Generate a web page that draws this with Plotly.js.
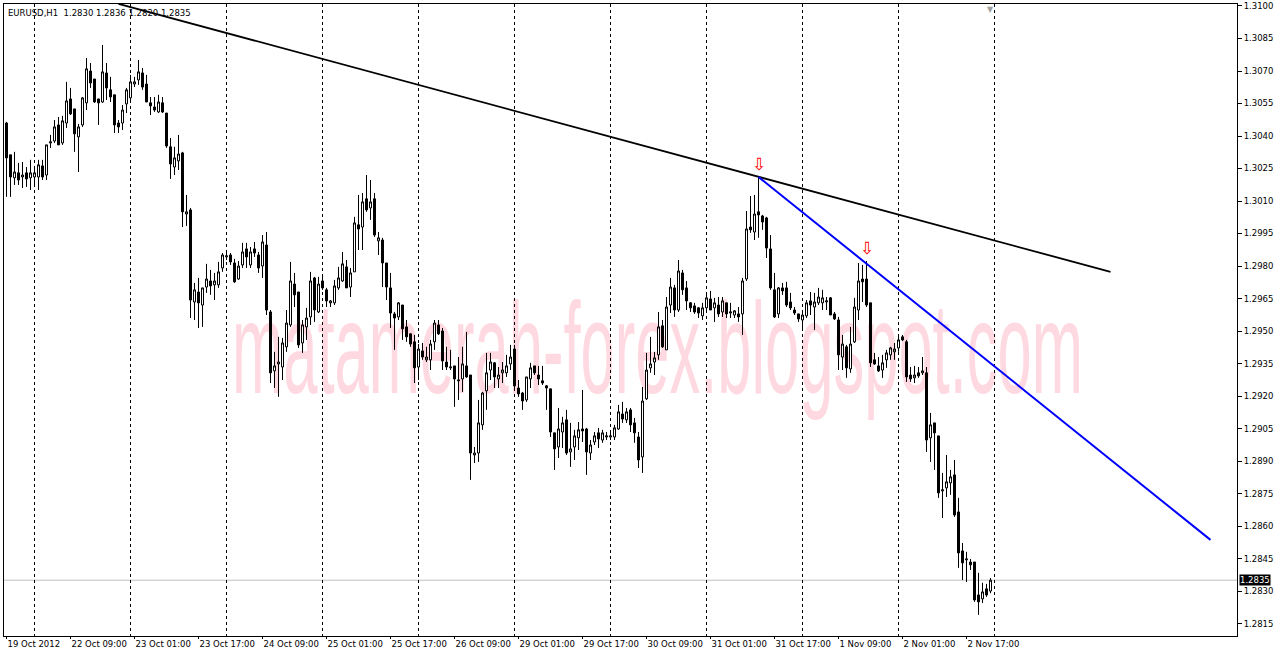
<!DOCTYPE html>
<html>
<head>
<meta charset="utf-8">
<script src="https://cdn.plot.ly/plotly-3.0.1.min.js"></script>
<style>
html,body{margin:0;padding:0;background:#fff;}
#chart{width:1275px;height:652px;}
</style>
</head>
<body>
<div id="chart"></div>
<script>
// ---- EURUSD H1 candles (19 Oct 2012 17:00 -> 2 Nov 2012 23:00) ----
const openP = [1.30460,1.30313,1.30207,1.30230,1.30211,1.30230,1.30207,1.30211,1.30211,1.30262,1.30220,1.30368,1.30377,1.30451,1.30368,1.30460,1.30571,1.30525,1.30396,1.30451,
1.30553,1.30700,1.30663,1.30571,1.30557,1.30691,1.30613,1.30590,1.30460,1.30460,1.30548,1.30576,1.30640,1.30659,1.30691,1.30640,1.30553,1.30534,1.30511,1.30553,
1.30506,1.30350,1.30257,1.30285,1.30322,1.30040,1.30059,1.29634,1.29680,1.29620,1.29703,1.29731,1.29713,1.29713,1.29791,1.29842,1.29851,1.29814,1.29740,1.29805,
1.29879,1.29805,1.29879,1.29851,1.29800,1.29897,1.29588,1.29316,1.29348,1.29334,1.29427,1.29528,1.29717,1.29680,1.29445,1.29519,1.29565,1.29745,1.29588,1.29731,
1.29690,1.29630,1.29630,1.29699,1.29731,1.29796,1.29703,1.29773,1.29990,1.29980,1.30110,1.30068,1.30110,1.29916,1.29920,1.29814,1.29699,1.29579,1.29565,1.29620,
1.29519,1.29487,1.29450,1.29334,1.29408,1.29367,1.29367,1.29450,1.29528,1.29500,1.29357,1.29330,1.29339,1.29270,1.29279,1.29339,1.29297,1.28928,1.28937,1.29067,
1.29224,1.29320,1.29353,1.29279,1.29307,1.29307,1.29348,1.29417,1.29237,1.29214,1.29182,1.29279,1.29339,1.29297,1.29270,1.29247,1.29233,1.29030,1.28965,1.29034,
1.29090,1.28942,1.28965,1.29007,1.29048,1.29048,1.28937,1.28988,1.29030,1.28997,1.29011,1.29011,1.29011,1.29048,1.29117,1.29090,1.29136,1.29076,1.29011,1.28919,
1.29187,1.29330,1.29357,1.29390,1.29524,1.29413,1.29620,1.29699,1.29597,1.29768,1.29699,1.29630,1.29616,1.29607,1.29570,1.29607,1.29648,1.29607,1.29620,1.29588,
1.29630,1.29583,1.29574,1.29579,1.29579,1.29740,1.29980,1.29957,1.30050,1.30031,1.30022,1.29879,1.29690,1.29579,1.29699,1.29699,1.29634,1.29597,1.29579,1.29551,
1.29570,1.29639,1.29611,1.29630,1.29630,1.29634,1.29653,1.29579,1.29551,1.29380,1.29427,1.29325,1.29450,1.29597,1.29740,1.29740,1.29630,1.29367,1.29339,1.29320,
1.29367,1.29390,1.29404,1.29422,1.29473,1.29450,1.29297,1.29284,1.29307,1.29307,1.29307,1.29007,1.29076,1.29016,1.28762,1.28776,1.28799,1.28836,1.28665,1.28485,
1.28444,1.28434,1.28434,1.28282,1.28264,1.28310,1.28300];
const highP = [1.30465,1.30313,1.30327,1.30276,1.30280,1.30257,1.30290,1.30253,1.30290,1.30290,1.30359,1.30405,1.30474,1.30488,1.30493,1.30650,1.30622,1.30525,1.30456,1.30580,
1.30760,1.30737,1.30663,1.30571,1.30820,1.30737,1.30673,1.30590,1.30474,1.30543,1.30622,1.30682,1.30673,1.30751,1.30714,1.30682,1.30580,1.30580,1.30590,1.30580,
1.30506,1.30391,1.30350,1.30405,1.30327,1.30128,1.30068,1.29722,1.29745,1.29699,1.29810,1.29782,1.29768,1.29819,1.29860,1.29865,1.29860,1.29833,1.29823,1.29907,
1.29907,1.29888,1.29911,1.29865,1.29943,1.29957,1.29597,1.29404,1.29473,1.29468,1.29597,1.29819,1.29768,1.29680,1.29551,1.29607,1.29773,1.29750,1.29750,1.29750,
1.29699,1.29643,1.29736,1.29796,1.29865,1.29828,1.29791,1.30027,1.30128,1.30137,1.30220,1.30197,1.30137,1.29957,1.29930,1.29814,1.29768,1.29588,1.29634,1.29620,
1.29551,1.29487,1.29482,1.29440,1.29445,1.29427,1.29459,1.29551,1.29551,1.29514,1.29427,1.29413,1.29339,1.29380,1.29427,1.29496,1.29297,1.28965,1.29182,1.29219,
1.29399,1.29399,1.29357,1.29334,1.29357,1.29390,1.29436,1.29436,1.29274,1.29219,1.29288,1.29353,1.29339,1.29339,1.29339,1.29251,1.29233,1.29030,1.29145,1.29104,
1.29136,1.29076,1.29044,1.29080,1.29228,1.29053,1.28997,1.29034,1.29053,1.29044,1.29034,1.29030,1.29067,1.29159,1.29173,1.29145,1.29145,1.29099,1.29034,1.29242,
1.29399,1.29473,1.29404,1.29588,1.29551,1.29657,1.29745,1.29713,1.29828,1.29782,1.29731,1.29634,1.29630,1.29611,1.29630,1.29680,1.29685,1.29653,1.29657,1.29657,
1.29630,1.29630,1.29597,1.29611,1.29745,1.30054,1.30123,1.30128,1.30211,1.30036,1.30027,1.29943,1.29768,1.29703,1.29722,1.29727,1.29676,1.29611,1.29579,1.29588,
1.29643,1.29680,1.29676,1.29699,1.29690,1.29657,1.29657,1.29588,1.29565,1.29482,1.29436,1.29519,1.29653,1.29814,1.29805,1.29823,1.29630,1.29399,1.29380,1.29390,
1.29413,1.29427,1.29445,1.29473,1.29482,1.29459,1.29334,1.29339,1.29334,1.29380,1.29334,1.29122,1.29076,1.29016,1.28845,1.28928,1.28859,1.28905,1.28730,1.28522,
1.28481,1.28448,1.28434,1.28384,1.28338,1.28333,1.28360];
const lowP = [1.30119,1.30119,1.30174,1.30174,1.30160,1.30165,1.30151,1.30174,1.30151,1.30197,1.30197,1.30345,1.30368,1.30359,1.30359,1.30437,1.30497,1.30327,1.30234,1.30442,
1.30520,1.30622,1.30553,1.30451,1.30553,1.30566,1.30557,1.30414,1.30414,1.30428,1.30506,1.30566,1.30626,1.30636,1.30613,1.30557,1.30497,1.30511,1.30506,1.30506,
1.30345,1.30202,1.30220,1.30243,1.29980,1.29985,1.29560,1.29551,1.29514,1.29519,1.29676,1.29667,1.29643,1.29699,1.29773,1.29828,1.29805,1.29722,1.29736,1.29791,
1.29791,1.29791,1.29842,1.29768,1.29745,1.29574,1.29260,1.29237,1.29196,1.29274,1.29404,1.29519,1.29611,1.29422,1.29399,1.29459,1.29528,1.29542,1.29583,1.29690,
1.29611,1.29611,1.29620,1.29690,1.29727,1.29699,1.29657,1.29773,1.29874,1.29874,1.30050,1.30013,1.29934,1.29851,1.29703,1.29643,1.29514,1.29413,1.29551,1.29459,
1.29450,1.29427,1.29260,1.29274,1.29367,1.29357,1.29320,1.29413,1.29482,1.29320,1.29320,1.29320,1.29150,1.29182,1.29219,1.29284,1.28813,1.28891,1.28896,1.29044,
1.29136,1.29274,1.29237,1.29237,1.29260,1.29288,1.29320,1.29237,1.29196,1.29136,1.29173,1.29237,1.29297,1.29251,1.29251,1.29136,1.29011,1.28859,1.28914,1.28960,
1.28928,1.28873,1.28905,1.28951,1.28988,1.28836,1.28905,1.28974,1.28960,1.28984,1.28997,1.28997,1.28997,1.29044,1.29076,1.29076,1.29034,1.28984,1.28868,1.28845,
1.29182,1.29307,1.29297,1.29367,1.29422,1.29413,1.29583,1.29565,1.29588,1.29667,1.29597,1.29588,1.29579,1.29560,1.29551,1.29588,1.29597,1.29542,1.29565,1.29565,
1.29560,1.29560,1.29560,1.29542,1.29482,1.29731,1.29953,1.29920,1.29930,1.29967,1.29837,1.29690,1.29560,1.29560,1.29667,1.29611,1.29597,1.29574,1.29542,1.29505,
1.29560,1.29574,1.29505,1.29620,1.29597,1.29597,1.29574,1.29551,1.29320,1.29320,1.29284,1.29307,1.29445,1.29551,1.29634,1.29611,1.29334,1.29344,1.29311,1.29284,
1.29330,1.29367,1.29367,1.29404,1.29454,1.29265,1.29265,1.29260,1.29284,1.29297,1.28942,1.28896,1.28859,1.28730,1.28637,1.28734,1.28744,1.28642,1.28407,1.28351,
1.28342,1.28397,1.28250,1.28190,1.28245,1.28273,1.28290];
const closeP = [1.30299,1.30211,1.30234,1.30197,1.30220,1.30202,1.30230,1.30230,1.30267,1.30211,1.30359,1.30373,1.30442,1.30359,1.30470,1.30562,1.30502,1.30410,1.30442,1.30576,
1.30710,1.30645,1.30557,1.30553,1.30696,1.30622,1.30580,1.30451,1.30442,1.30520,1.30613,1.30650,1.30650,1.30696,1.30626,1.30557,1.30539,1.30520,1.30557,1.30511,
1.30354,1.30271,1.30299,1.30317,1.30050,1.30050,1.29643,1.29690,1.29630,1.29699,1.29740,1.29708,1.29731,1.29773,1.29851,1.29847,1.29819,1.29727,1.29800,1.29865,
1.29842,1.29865,1.29860,1.29791,1.29911,1.29597,1.29307,1.29339,1.29357,1.29445,1.29537,1.29731,1.29667,1.29436,1.29528,1.29560,1.29731,1.29597,1.29717,1.29699,
1.29639,1.29639,1.29708,1.29745,1.29810,1.29699,1.29768,1.29999,1.29971,1.30096,1.30059,1.30096,1.29943,1.29930,1.29814,1.29703,1.29583,1.29560,1.29630,1.29510,
1.29473,1.29440,1.29330,1.29417,1.29380,1.29380,1.29440,1.29537,1.29487,1.29362,1.29334,1.29334,1.29279,1.29274,1.29348,1.29288,1.28937,1.28937,1.29076,1.29214,
1.29307,1.29357,1.29288,1.29297,1.29320,1.29339,1.29380,1.29247,1.29210,1.29177,1.29288,1.29330,1.29307,1.29279,1.29260,1.29237,1.29034,1.28956,1.29048,1.29076,
1.28937,1.28956,1.29016,1.29044,1.29039,1.28942,1.28974,1.29016,1.29002,1.29030,1.29016,1.29016,1.29053,1.29127,1.29094,1.29127,1.29067,1.29030,1.28905,1.29177,
1.29320,1.29348,1.29376,1.29519,1.29427,1.29611,1.29703,1.29597,1.29777,1.29690,1.29639,1.29607,1.29588,1.29583,1.29607,1.29653,1.29597,1.29630,1.29579,1.29639,
1.29579,1.29588,1.29593,1.29565,1.29731,1.29971,1.29967,1.30040,1.30036,1.30003,1.29883,1.29699,1.29565,1.29699,1.29685,1.29620,1.29607,1.29583,1.29556,1.29574,
1.29630,1.29620,1.29634,1.29657,1.29653,1.29639,1.29574,1.29556,1.29390,1.29440,1.29330,1.29440,1.29611,1.29731,1.29727,1.29620,1.29353,1.29348,1.29316,1.29353,
1.29399,1.29422,1.29417,1.29459,1.29459,1.29288,1.29279,1.29297,1.29293,1.29316,1.28997,1.29067,1.29030,1.28753,1.28767,1.28804,1.28827,1.28651,1.28476,1.28430,
1.28448,1.28421,1.28259,1.28250,1.28296,1.28282,1.28350];

// time axis labels (candle positions) and day separators
const labelIdx  = [0,16,32,48,64,80,96,112,128,144,160,176,192,208,224,240];
const labelText = ["19 Oct 2012","22 Oct 09:00","23 Oct 01:00","23 Oct 17:00","24 Oct 09:00","25 Oct 01:00","25 Oct 17:00","26 Oct 09:00",
                   "29 Oct 01:00","29 Oct 17:00","30 Oct 09:00","31 Oct 01:00","31 Oct 17:00","1 Nov 09:00","2 Nov 01:00","2 Nov 17:00"];
const dayStartIdx = [7,31,55,79,103,127,151,175,199,223,247];

// price axis ticks
const yTickVals = [1.2815,1.2830,1.2845,1.2860,1.2875,1.2890,1.2905,1.2920,1.2935,1.2950,1.2965,1.2980,1.2995,1.3010,1.3025,1.3040,1.3055,1.3070,1.3085,1.3100];

// trend lines (drawn by the analyst)
const blackLineX = [28, 276];
const blackLineY = [1.31010, 1.29773];
const blueLineX  = [188, 301];
const blueLineY  = [1.30211, 1.28536];

// red arrow marks (candle positions of the two touches)
const arrowIdx = [188, 215];

const bidPrice = 1.2835;
const headerText = "EURUSD,H1\u00a0 1.2830 1.2836 1.2820 1.2835";
const watermarkText = "matamerah-forex.blogspot.com";

const xIdx = openP.map((_, i) => i);
const FONT = {family: "DejaVu Sans", size: 8.5, color: "#000"};

const data = [
  {
    type: "candlestick",
    x: xIdx, open: openP, high: highP, low: lowP, close: closeP,
    increasing: {line: {color: "#000", width: 1}, fillcolor: "#fff"},
    decreasing: {line: {color: "#000", width: 1}, fillcolor: "#000"},
    whiskerwidth: 0,
    hoverinfo: "skip",
    showlegend: false
  },
  {
    type: "scatter", mode: "lines", x: blackLineX, y: blackLineY,
    line: {color: "#000", width: 1.8}, hoverinfo: "skip", showlegend: false
  },
  {
    type: "scatter", mode: "lines", x: blueLineX, y: blueLineY,
    line: {color: "#0000ff", width: 2}, hoverinfo: "skip", showlegend: false
  }
];

const annotations = [
  {xref: "paper", yref: "paper", x: 0, y: 1, xanchor: "left", yanchor: "top", xshift: 2, yshift: -2,
   text: headerText, showarrow: false, font: FONT},
  {xref: "paper", yref: "y", x: 1, y: bidPrice, xanchor: "left", xshift: 2,
   text: bidPrice.toFixed(4), showarrow: false, bgcolor: "#000", borderpad: 0,
   font: {family: "DejaVu Sans", size: 8.5, color: "#fff"}},
  {xref: "x", yref: "paper", x: xIdx[xIdx.length - 1], y: 1, yanchor: "top", yshift: 1,
   text: "\u25BC", showarrow: false, font: {family: "DejaVu Sans", size: 8, color: "#a0a0a0"}}
];
arrowIdx.forEach(function (k) {
  annotations.push({xref: "x", yref: "y", x: k, y: highP[k], yanchor: "bottom", yshift: 1,
    text: "\u21E9", showarrow: false, font: {family: "DejaVu Sans", size: 17, color: "#ff0000"}});
});

const layout = {
  width: 1275, height: 652,
  margin: {l: 4, r: 38, t: 4, b: 16, pad: 0},
  paper_bgcolor: "#fff", plot_bgcolor: "#fff",
  showlegend: false,
  boxgap: 0.5, boxgroupgap: 0,
  xaxis: {
    range: [-0.625, 307.625],
    rangeslider: {visible: false},
    tickmode: "array", tickvals: labelIdx, ticktext: labelText,
    tickangle: 0,
    ticklabelposition: "outside right",
    ticks: "outside", ticklen: 2, tickcolor: "#000",
    showgrid: false, zeroline: false,
    showline: true, mirror: true, linecolor: "#000", linewidth: 1,
    tickfont: FONT,
    minor: {tickmode: "array", tickvals: dayStartIdx, showgrid: true, gridcolor: "#000",
            gridwidth: 1, griddash: "3px,3px", ticks: ""},
    fixedrange: true
  },
  yaxis: {
    side: "right",
    range: [1.280925, 1.310092],
    tickmode: "array", tickvals: yTickVals, ticktext: yTickVals.map(v => v.toFixed(4)),
    ticks: "outside", ticklen: 4, tickcolor: "#000",
    showgrid: false, zeroline: false,
    showline: true, mirror: true, linecolor: "#000", linewidth: 1,
    tickfont: FONT,
    fixedrange: true
  },
  shapes: [
    {type: "line", xref: "paper", x0: 0, x1: 1, yref: "y", y0: bidPrice, y1: bidPrice,
     line: {color: "#c0c0c0", width: 1}, layer: "below"},
    {type: "rect", xref: "paper", yref: "paper", x0: 0.15, x1: 0.91, y0: 0.365, y1: 0.565,
     line: {width: 0}, fillcolor: "rgba(0,0,0,0)", layer: "below",
     label: {text: watermarkText, textposition: "middle center",
             font: {family: "Liberation Sans", size: 61.5, color: "#ffd9e1"}}}
  ],
  annotations: annotations
};

Plotly.newPlot("chart", data, layout, {staticPlot: true, displayModeBar: false}).then(function (gd) {
  const STRETCH = 2.1;
  gd.querySelectorAll("text").forEach(function (t) {
    if (t.textContent === watermarkText) {
      const bb = t.getBBox();
      const cx = bb.x + bb.width / 2, cy = bb.y + bb.height / 2;
      const prev = t.getAttribute("transform") || "";
      t.setAttribute("transform", prev + " translate(" + cx + "," + cy + ") scale(1," + STRETCH + ") translate(" + (-cx) + "," + (-cy) + ")");
    }
  });
});
</script>
</body>
</html>
